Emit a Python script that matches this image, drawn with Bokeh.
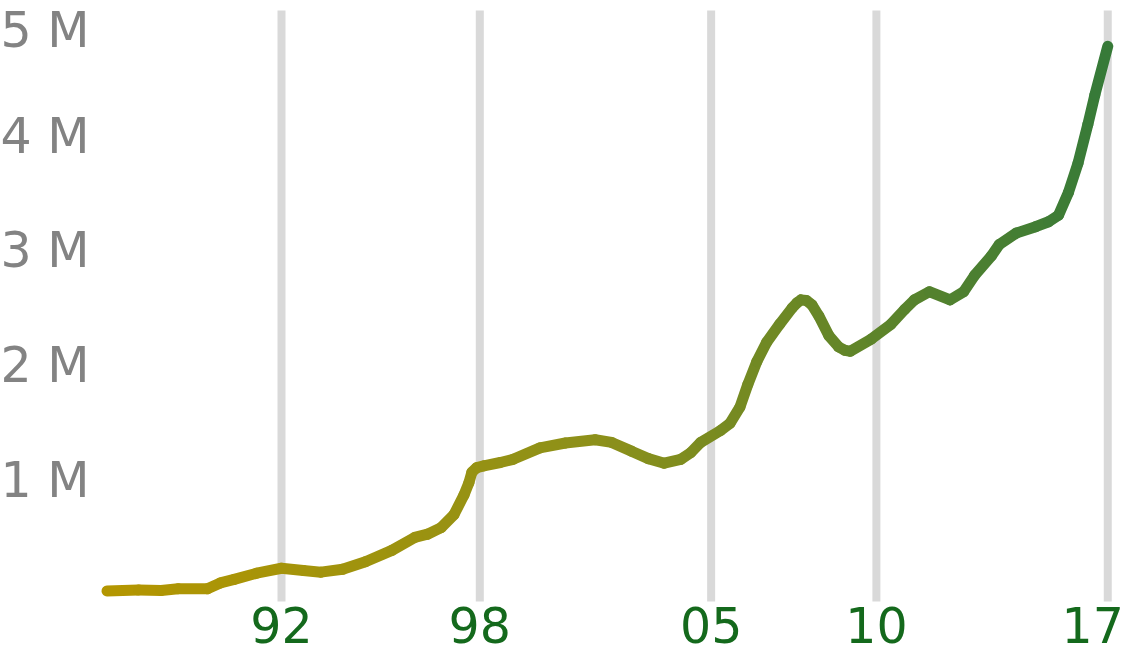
import numpy as np
from bokeh.plotting import figure
from bokeh.models import ColumnDataSource, LabelSet, Range1d
from bokeh.core.properties import value
from bokeh.embed import file_html
from bokeh.resources import INLINE

# ---- data (values in millions) ----
YEARS = [1986.72, 1987.67, 1988.36, 1988.87, 1989.76, 1990.15, 1990.57, 1991.25,
         1992.00, 1992.66, 1993.19, 1993.85, 1994.54, 1995.34, 1996.03, 1996.42,
         1996.83, 1997.22, 1997.52, 1997.67, 1997.76, 1997.91, 1998.12, 1998.62,
         1999.01, 1999.82, 2000.59, 2001.49, 2001.99, 2002.59, 2003.10, 2003.58,
         2004.08, 2004.38, 2004.68, 2005.28, 2005.57, 2005.87, 2006.11, 2006.38,
         2006.68, 2007.07, 2007.45, 2007.60, 2007.72, 2007.88, 2008.05, 2008.26,
         2008.56, 2008.86, 2009.05, 2009.21, 2009.84, 2010.44, 2010.85, 2011.15,
         2011.60, 2012.23, 2012.64, 2012.97, 2013.48, 2013.72, 2014.23, 2014.82,
         2015.21, 2015.51, 2015.81, 2016.10, 2016.40, 2016.61, 2017.00]
VALUES_M = [0.021, 0.030, 0.027, 0.041, 0.041, 0.092, 0.123, 0.177,
            0.220, 0.200, 0.186, 0.211, 0.277, 0.376, 0.489, 0.517,
            0.574, 0.688, 0.858, 0.966, 1.057, 1.098, 1.113, 1.142,
            1.170, 1.270, 1.312, 1.340, 1.317, 1.241, 1.176, 1.136,
            1.170, 1.227, 1.317, 1.420, 1.483, 1.624, 1.823, 2.021,
            2.191, 2.347, 2.489, 2.535, 2.560, 2.555, 2.517, 2.419,
            2.249, 2.149, 2.120, 2.112, 2.217, 2.347, 2.475, 2.560,
            2.631, 2.560, 2.631, 2.773, 2.943, 3.043, 3.142, 3.198,
            3.241, 3.298, 3.496, 3.751, 4.092, 4.347, 4.770]
X_TICKS = [1992, 1998, 2005, 2010, 2017]
X_TICK_LABELS = ["92", "98", "05", "10", "17"]
Y_TICKS = [1, 2, 3, 4, 5]
Y_TICK_LABELS = ["1 M", "2 M", "3 M", "4 M", "5 M"]

# ---- layout / style (pixels) ----
W, H = 1123, 655
PX_PER_YEAR = 33.05
X92_PX = 281.0          # pixel position of 1992 from the left
PX_PER_M = 114.7
ZERO_PX = 593.0         # pixel position of 0 from the top
GRID_TOP_PX, GRID_BOTTOM_PX = 10.0, 601.0
LABEL_FONT_PX = 49
CAP_HEIGHT = 0.729      # DejaVu Sans metrics (em)
ASCENT, DESCENT = 0.928, 0.236
X_LABEL_BASELINE_PX = H - DESCENT * LABEL_FONT_PX - 1
X_LABEL_OFFSETS = [0, 0, 0, 0, -15]
FONT = "DejaVu Sans"
GRAD_STOPS = [(0.0, (180, 150, 0)), (0.5, (140, 144, 26)), (1.0, (54, 122, 56))]

x_start = 1992 - X92_PX / PX_PER_YEAR
x_end = x_start + W / PX_PER_YEAR
y_end = ZERO_PX / PX_PER_M
y_start = -(H - ZERO_PX) / PX_PER_M

def px_to_val(py):
    return (ZERO_PX - py) / PX_PER_M

def val_to_px(v):
    return ZERO_PX - v * PX_PER_M

def grad_color(t):
    for (t0, c0), (t1, c1) in zip(GRAD_STOPS[:-1], GRAD_STOPS[1:]):
        if t <= t1:
            f = (t - t0) / (t1 - t0) if t1 > t0 else 0
            c = [round(a + (b - a) * f) for a, b in zip(c0, c1)]
            return "#%02x%02x%02x" % tuple(c)
    return "#%02x%02x%02x" % GRAD_STOPS[-1][1]

p = figure(width=W, height=H, output_backend="svg", toolbar_location=None,
           x_range=Range1d(x_start, x_end), y_range=Range1d(y_start, y_end),
           x_axis_location=None, y_axis_location=None,
           min_border=0)
p.outline_line_color = None
p.background_fill_color = "white"
p.border_fill_color = "white"
for g in p.grid:
    g.visible = False

# vertical grid lines at the x ticks
p.segment(x0=X_TICKS, x1=X_TICKS,
          y0=[px_to_val(GRID_BOTTOM_PX)] * len(X_TICKS),
          y1=[px_to_val(GRID_TOP_PX)] * len(X_TICKS),
          line_color="#d9d9d9", line_width=8, line_cap="butt")

# gradient line as segments
x0, x1 = YEARS[0], YEARS[-1]
xs, ys, cols = [], [], []
for i in range(len(YEARS) - 1):
    xs.append([YEARS[i], YEARS[i + 1]])
    ys.append([VALUES_M[i], VALUES_M[i + 1]])
    t = ((YEARS[i] + YEARS[i + 1]) / 2 - x0) / (x1 - x0)
    cols.append(grad_color(t))
p.multi_line(xs=xs, ys=ys, line_color=cols, line_width=11, line_cap="round",
             line_join="round")

# x tick labels
xsrc = ColumnDataSource(dict(x=X_TICKS, y=[px_to_val(X_LABEL_BASELINE_PX)] * len(X_TICKS),
                             text=X_TICK_LABELS, dx=X_LABEL_OFFSETS))
p.add_layout(LabelSet(x="x", y="y", text="text", x_offset="dx", source=xsrc,
                      text_align="center", text_baseline="alphabetic",
                      text_font=value(FONT), text_font_size=f"{LABEL_FONT_PX}px",
                      text_color="#14691c"))

# y tick labels: left aligned, vertically centred on the tick, kept inside the canvas
min_baseline_px = ASCENT * LABEL_FONT_PX + 1
ybase = [max(val_to_px(t) + CAP_HEIGHT * LABEL_FONT_PX / 2, min_baseline_px) for t in Y_TICKS]
ysrc = ColumnDataSource(dict(x=[x_start] * len(Y_TICKS),
                             y=[px_to_val(b) for b in ybase],
                             text=Y_TICK_LABELS))
p.add_layout(LabelSet(x="x", y="y", text="text", source=ysrc,
                      text_align="left", text_baseline="alphabetic",
                      text_font=value(FONT), text_font_size=f"{LABEL_FONT_PX}px",
                      text_color="#838383"))

open("out.html", "w").write(file_html(p, INLINE))
